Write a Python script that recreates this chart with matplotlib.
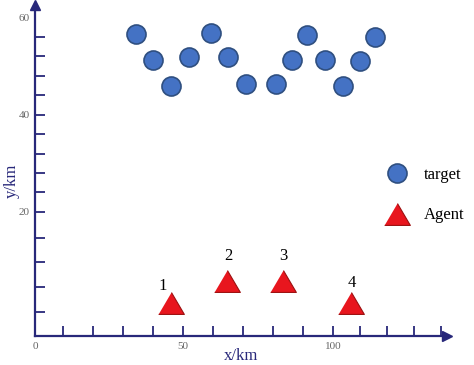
import matplotlib
matplotlib.use('Agg')
import matplotlib.pyplot as plt

# target positions (km)
target_x = [34.2, 40.1, 46.0, 52.0, 59.2, 65.1, 71.0, 80.9, 86.4, 91.4, 97.3, 103.2, 109.0, 114.0]
target_y = [56.6, 51.3, 46.0, 51.9, 56.8, 51.9, 46.4, 46.4, 51.3, 56.5, 51.3, 46.0, 51.0, 56.0]

# agent positions (km)
agent_x = [45.9, 64.6, 83.4, 105.9]
agent_y = [1.3, 5.8, 5.8, 1.3]
agent_names = ['1', '2', '3', '4']

axis_col = '#28287a'
serif = 'Liberation Serif'

fig = plt.figure(figsize=(4.74, 3.65), dpi=100)
ax = fig.add_axes([35 / 474, 29 / 365, (447 - 35) / 474, (336 - 5) / 365])

tri = [(-1, -0.85), (1, -0.85), (0, 0.85)]
ax.plot(target_x, target_y, 'o', ms=13.7, mfc='#4472c4', mec='#2f4f80', mew=1.2,
        ls='none', label='target', zorder=3)
ax.plot(agent_x, agent_y, marker=tri, ms=18.5, mfc='#e8161e', mec='#9c1010', mew=0.8,
        ls='none', label='Agent', zorder=3)

# number labels sit a bit above each triangle (offsets in points)
offsets = [(-6, 12), (1, 18), (0, 18), (1, 14)]
for x, y, s, off in zip(agent_x, agent_y, agent_names, offsets):
    ax.annotate(s, (x, y), xytext=off, textcoords='offset points', fontsize=12,
                family=serif, ha='center', va='center')

ax.set_xlim(0.67, 138.0)
ax.set_ylim(-5.6, 62.6)

# axes with arrows
for side in ['top', 'right']:
    ax.spines[side].set_visible(False)
for side in ['left', 'bottom']:
    ax.spines[side].set_color(axis_col)
    ax.spines[side].set_linewidth(1.6)
ax.plot(1, 0, '>', color=axis_col, ms=7, transform=ax.transAxes, clip_on=False)
ax.plot(0, 1, '^', color=axis_col, ms=7, transform=ax.transAxes, clip_on=False)

ax.set_xticks([0.67, 50, 100])
ax.set_xticklabels(['0', '50', '100'])
ax.set_xticks([10, 20, 30, 40, 60, 70, 80, 90, 109, 118, 127, 136], minor=True)
ax.set_yticks([20, 40, 60])
ax.set_yticklabels(['20', '40', '60'])
ax.set_yticks([-0.6, 4.5, 9.7, 14.6, 24, 28, 32, 36, 44, 48, 52, 56], minor=True)
ax.tick_params(which='both', direction='in', color=axis_col, width=1.3, length=7,
               labelsize=8, labelcolor='#666666', pad=4)
ax.yaxis.get_major_ticks()[2].tick1line.set_visible(False)
ax.xaxis.get_major_ticks()[0].tick1line.set_visible(False)
for lab in ax.get_xticklabels() + ax.get_yticklabels():
    lab.set_family(serif)

ax.set_xlabel('x/km', fontsize=12, family=serif, color=axis_col, labelpad=-2)
ax.set_ylabel('y/km', fontsize=12, family=serif, color=axis_col)
ax.yaxis.set_label_coords(-0.036, 0.47)

ax.legend(loc='center left', bbox_to_anchor=(0.818, 0.425), frameon=False,
          prop={'family': serif, 'size': 12}, labelspacing=1.45,
          handletextpad=0.6, borderpad=0)

plt.savefig('out.png', dpi=100)
